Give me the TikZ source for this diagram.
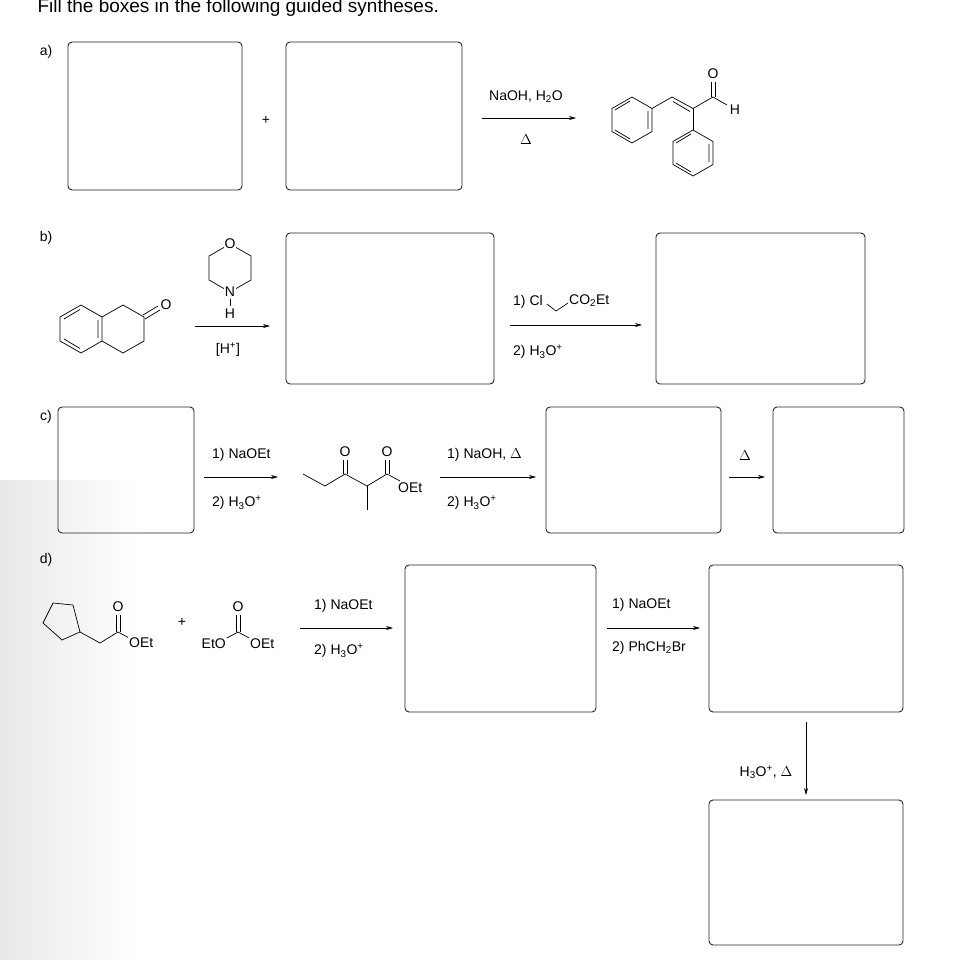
\documentclass[tikz,border=0pt]{standalone}
\usepackage{fontspec}
\setmainfont{Liberation Sans}
\usetikzlibrary{arrows.meta}
\begin{document}
\begin{tikzpicture}[x=1pt,y=-1pt,
 bx/.style={draw=black!85,line width=0.9pt,rounded corners=4pt},
 rx/.style={-{Stealth[length=7pt,width=4pt]},line width=0.6pt},
 bd/.style={line width=0.7pt},
 lb/.style={font=\fontsize{14}{16}\selectfont,inner sep=1pt},
 atomlbl/.style={font=\fontsize{14}{16}\selectfont,inner sep=1pt,fill=white}]
\useasboundingbox (0,0) rectangle (969,960);
\fill[white] (0,0) rectangle (969,960);
\shade[left color=black!9,right color=white] (0,480) rectangle (140,960);
\node[anchor=west,font=\fontsize{19}{21}\selectfont] (title) at (34,8) {Fill the boxes in the following guided syntheses.};
\node[lb] (la) at (46,52) {a)};
\node[lb] (lbb) at (46,238) {b)};
\node[lb] (lc) at (46,417) {c)};
\node[lb] (ld) at (46,560) {d)};
% a
\node[bx,minimum width=174,minimum height=148] (a1) at (155,116) {};
\node[bx,minimum width=176,minimum height=148] (a2) at (374,116) {};
\node[lb] (ap) at (266,120) {+};
\coordinate (aas) at (482,118); \coordinate (aae) at (576,118);
\draw[rx] (aas) -- (aae);
\node[lb] (at1) at (526,97) {NaOH, H\textsubscript{2}O};
\node[lb] (at2) at (526,140) {$\Delta$};
% product a
\draw[bd] (632,97) -- (652,108.5) -- (652,131.5) -- (632,143) -- (612,131.5) -- (612,108.5) -- cycle;
\draw[bd] (648,111) -- (648,129) (630,139) -- (615,130) (615,110) -- (630,101);
\draw[bd] (652,108.5) -- (672,97) -- (693,108.5) -- (713,97);
\draw[bd] (673,101.5) -- (690,111.5);
\draw[bd] (693,108.5) -- (693,130);
\draw[bd] (693,130) -- (713,141.5) -- (713,164.5) -- (693,176) -- (673,164.5) -- (673,141.5) -- cycle;
\draw[bd] (709,144) -- (709,162) (691,172) -- (676,163) (676,143) -- (691,134);
\draw[bd] (711,97) -- (711,82) (715,97) -- (715,82);
\draw[bd] (713,97) -- (727,105);
\node[atomlbl] (ao) at (713,74) {O};
\node[atomlbl] (ah) at (735,110) {H};
% b
\draw[bd] (81,305) -- (102,317) -- (102,341) -- (81,353) -- (60,341) -- (60,317) -- cycle;
\draw[bd] (98,320) -- (98,338) (80,348.5) -- (64,339) (64,319) -- (80,309.5);
\draw[bd] (102,317) -- (123,305) -- (144,317) -- (144,341) -- (123,353) -- (102,341);
\draw[bd] (143,315) -- (158,306) (145,319) -- (160,310);
\node[atomlbl] (bo) at (166,305) {O};
\draw[bd] (230,244) -- (251,256) -- (251,280) -- (230,292) -- (209,280) -- (209,256) -- cycle;
\node[atomlbl] (mo) at (230,244) {O};
\node[atomlbl] (mn) at (230,292) {N};
\draw[bd] (230,299) -- (230,306);
\node[lb] (mh) at (230,314) {H};
\coordinate (b1s) at (195,326); \coordinate (b1e) at (270,326);
\draw[rx] (b1s) -- (b1e);
\node[lb] (bh) at (228,350) {[H\textsuperscript{+}]};
\node[bx,minimum width=208,minimum height=151] (b1) at (390,308.5) {};
\node[bx,minimum width=209,minimum height=151] (b2) at (760.5,308.5) {};
\coordinate (b2s) at (510,325); \coordinate (b2e) at (642,325);
\draw[rx] (b2s) -- (b2e);
\node[lb,anchor=west] (bc) at (512,302) {1) Cl};
\draw[bd] (547,304) -- (556,311) -- (568,303);
\node[lb,anchor=west] (bce) at (568,301) {CO\textsubscript{2}Et};
\node[lb,anchor=west] (bh3) at (512,352) {2) H\textsubscript{3}O\textsuperscript{+}};
% c
\node[bx,minimum width=136,minimum height=126] (c1) at (126,470) {};
\node[bx,minimum width=175,minimum height=126] (c2) at (633.5,470) {};
\node[bx,minimum width=131,minimum height=126] (c3) at (838.5,470) {};
\coordinate (c1s) at (204,477); \coordinate (c1e) at (278,477);
\draw[rx] (c1s) -- (c1e);
\node[lb,anchor=west] (ct1) at (211,455) {1) NaOEt};
\node[lb,anchor=west] (ct2) at (211,503) {2) H\textsubscript{3}O\textsuperscript{+}};
\draw[bd] (303,474) -- (325,486) -- (345,474) -- (367,486) -- (387,474) -- (400,481);
\draw[bd] (367,486) -- (367,510);
\draw[bd] (343,474) -- (343,460) (347,474) -- (347,460);
\draw[bd] (385,474) -- (385,460) (389,474) -- (389,460);
\node[atomlbl] (co1) at (345,452) {O};
\node[atomlbl] (co2) at (387,452) {O};
\node[atomlbl,anchor=west] (coe) at (397,488) {OEt};
\coordinate (c2s) at (440,477); \coordinate (c2e) at (536,477);
\draw[rx] (c2s) -- (c2e);
\node[lb,anchor=west] (ct3) at (446,455) {1) NaOH, $\Delta$};
\node[lb,anchor=west] (ct4) at (446,503) {2) H\textsubscript{3}O\textsuperscript{+}};
\coordinate (c3s) at (729,477); \coordinate (c3e) at (765,477);
\draw[rx] (c3s) -- (c3e);
\node[lb] (cd) at (745,456) {$\Delta$};
% d
\draw[bd] (80,632) -- (73,605) -- (53,603) -- (43,623) -- (62,640) -- cycle;
\draw[bd] (80,632) -- (100,643) -- (118,632) -- (131,639);
\draw[bd] (116,632) -- (116,615) (120,632) -- (120,615);
\node[atomlbl] (do1) at (118,607) {O};
\node[atomlbl,anchor=west] (doe) at (128,643) {OEt};
\node[lb] (dp) at (182,622) {+};
\draw[bd] (225,639) -- (238,632) -- (251,639);
\draw[bd] (236,632) -- (236,615) (240,632) -- (240,615);
\node[atomlbl] (do2) at (238,607) {O};
\node[atomlbl,anchor=east] (deo) at (227,644) {EtO};
\node[atomlbl,anchor=west] (doe2) at (249,644) {OEt};
\coordinate (d1s) at (300,628); \coordinate (d1e) at (393,628);
\draw[rx] (d1s) -- (d1e);
\node[lb,anchor=west] (dt1) at (313,606) {1) NaOEt};
\node[lb,anchor=west] (dt2) at (313,651) {2) H\textsubscript{3}O\textsuperscript{+}};
\node[bx,minimum width=191,minimum height=147] (d1) at (500.5,638.5) {};
\node[bx,minimum width=194,minimum height=147] (d2) at (806,638.5) {};
\node[bx,minimum width=194,minimum height=145] (d3) at (806,872.5) {};
\coordinate (d2s) at (607,628); \coordinate (d2e) at (700,628);
\draw[rx] (d2s) -- (d2e);
\node[lb,anchor=west] (dt3) at (611,605) {1) NaOEt};
\node[lb,anchor=west] (dt4) at (611,648) {2) PhCH\textsubscript{2}Br};
\coordinate (d3s) at (806,722); \coordinate (d3e) at (806,795);
\draw[rx] (d3s) -- (d3e);
\node[lb] (dt5) at (766,772) {H\textsubscript{3}O\textsuperscript{+}, $\Delta$};
\end{tikzpicture}
\end{document}
